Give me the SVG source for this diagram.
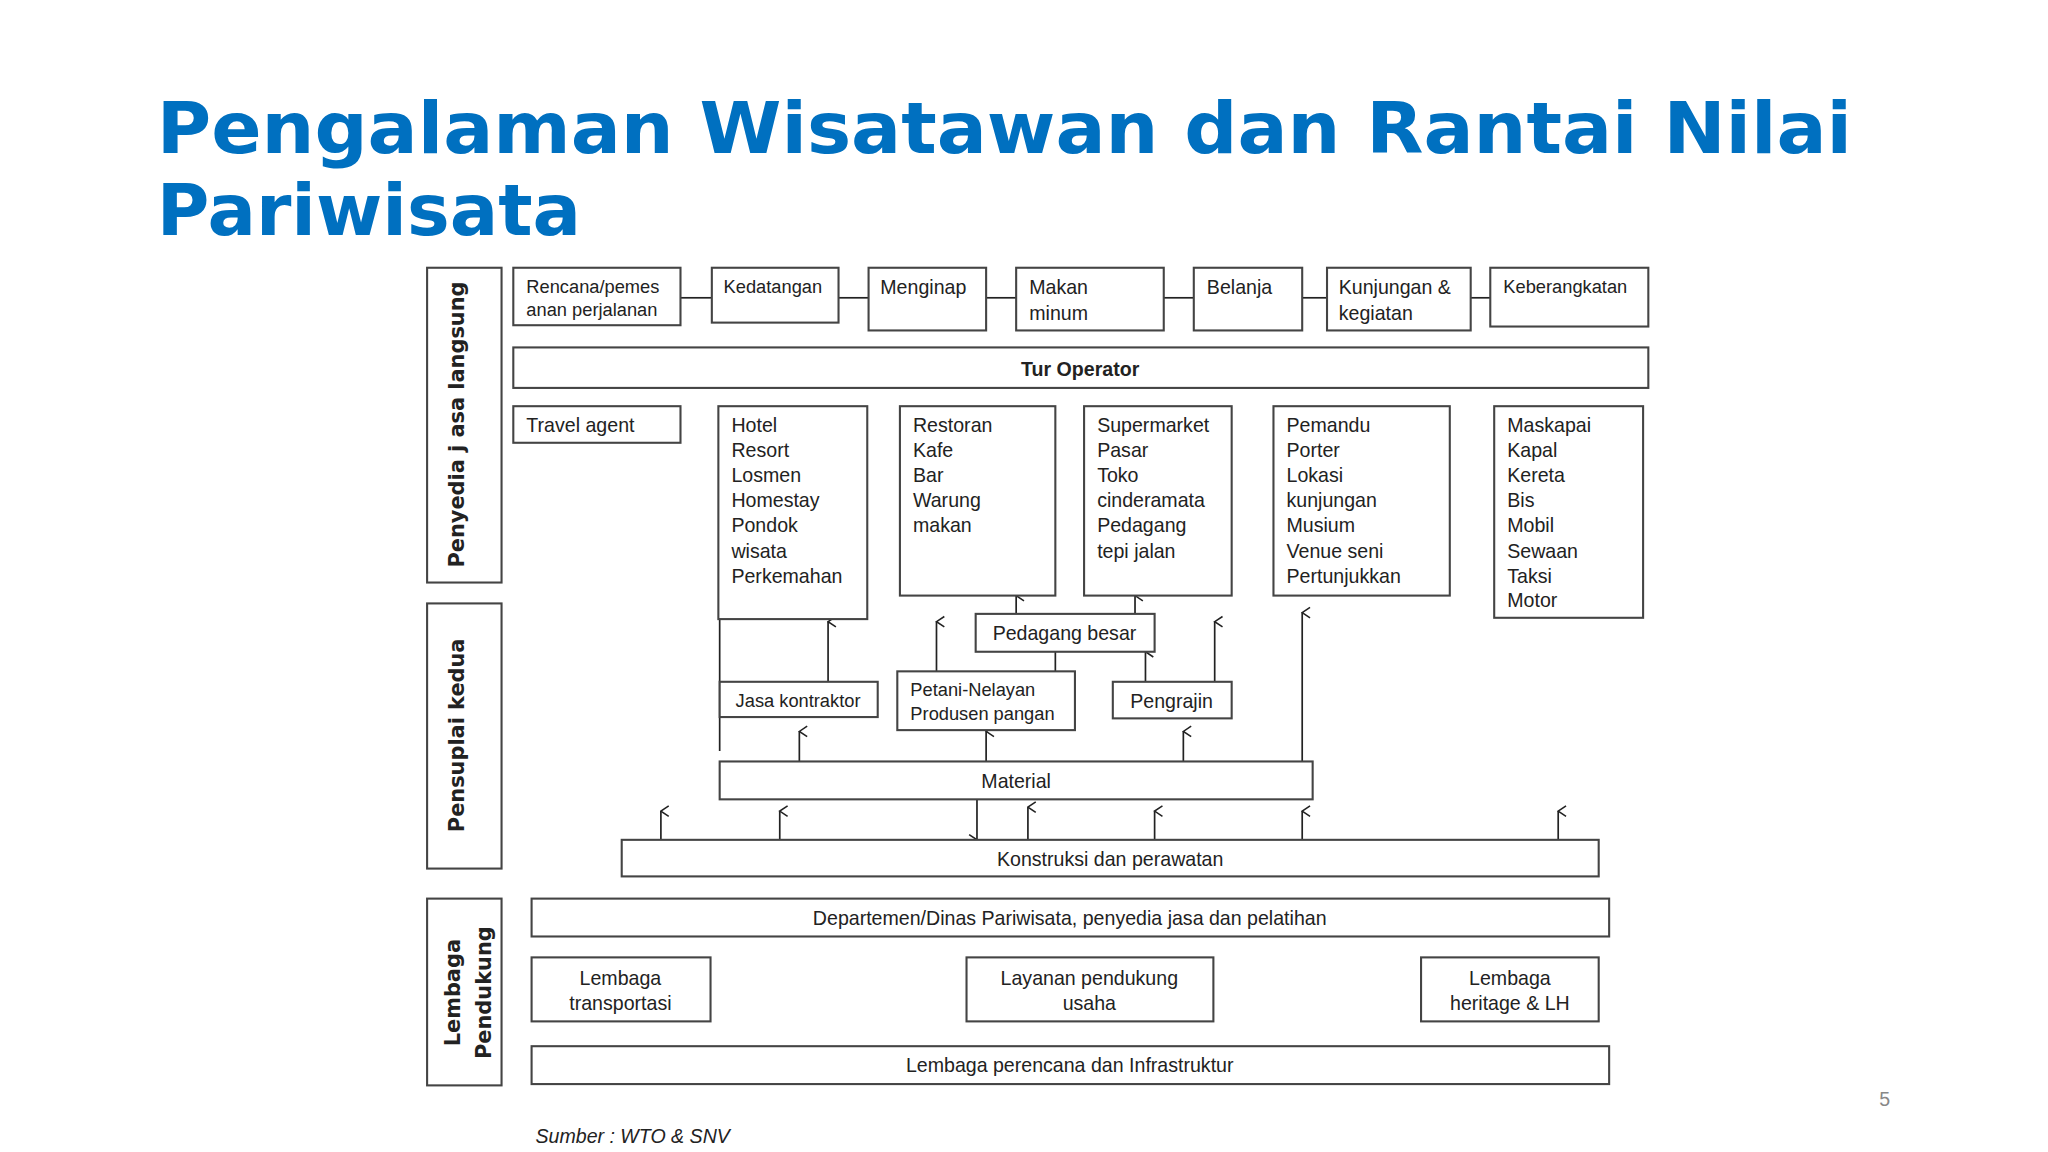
<svg xmlns="http://www.w3.org/2000/svg" width="2048" height="1152" viewBox="0 0 2048 1152">
<defs>
<marker id="ah" viewBox="0 0 10 10" refX="5" refY="1" markerWidth="10" markerHeight="10" markerUnits="userSpaceOnUse" orient="auto-start-reverse">
<polyline points="1,7 5,1 9,7" fill="none" stroke="#222" stroke-width="1.2"/>
</marker>
<style>
.b{fill:#fff;stroke:#444;stroke-width:1.6}
.t{font-family:"Liberation Sans",Arial,sans-serif;font-size:15px;fill:#222}
.s{font-family:"Liberation Sans",Arial,sans-serif;font-size:14px;fill:#222}
.side{font-family:"DejaVu Sans",sans-serif;font-weight:bold;font-size:16px;fill:#222}
.c{stroke:#222;stroke-width:1.3;fill:none}
.a{stroke:#222;stroke-width:1.3;fill:none;marker-end:url(#ah)}
</style>
</defs>
<rect width="2048" height="1152" fill="#fff"/>
<g transform="scale(1.30612)">
<g id="title" font-family="'DejaVu Sans',sans-serif" font-weight="bold" font-size="55" fill="#0070C0">
<text x="120" y="117" textLength="1298" lengthAdjust="spacingAndGlyphs">Pengalaman Wisatawan dan Rantai Nilai</text>
<text x="120" y="180">Pariwisata</text>
</g>
<g id="connectors">
<line class="c" x1="521" y1="228" x2="545" y2="228"/>
<line class="c" x1="642" y1="228" x2="665" y2="228"/>
<line class="c" x1="755" y1="228" x2="778" y2="228"/>
<line class="c" x1="891" y1="228" x2="914" y2="228"/>
<line class="c" x1="997" y1="228" x2="1016" y2="228"/>
<line class="c" x1="1126" y1="228" x2="1141" y2="228"/>
<line class="a" x1="551" y1="575" x2="551" y2="470"/>
<line class="a" x1="634" y1="522" x2="634" y2="476"/>
<line class="a" x1="717" y1="514" x2="717" y2="476"/>
<line class="a" x1="778" y1="470" x2="778" y2="456"/>
<line class="a" x1="869" y1="470" x2="869" y2="456"/>
<line class="a" x1="808" y1="514" x2="808" y2="489"/>
<line class="a" x1="877" y1="522" x2="877" y2="499"/>
<line class="a" x1="930" y1="522" x2="930" y2="476"/>
<line class="a" x1="997" y1="583" x2="997" y2="469"/>
<line class="a" x1="612" y1="583" x2="612" y2="560"/>
<line class="a" x1="755" y1="583" x2="755" y2="560"/>
<line class="a" x1="906" y1="583" x2="906" y2="560"/>
<line class="a" x1="748" y1="612" x2="748" y2="643"/>
<line class="a" x1="506" y1="643" x2="506" y2="621"/>
<line class="a" x1="597" y1="643" x2="597" y2="621"/>
<line class="a" x1="787" y1="643" x2="787" y2="618"/>
<line class="a" x1="884" y1="643" x2="884" y2="621"/>
<line class="a" x1="997" y1="643" x2="997" y2="621"/>
<line class="a" x1="1193" y1="643" x2="1193" y2="621"/>
</g>
<g id="side1"><rect class="b" x="327" y="205" width="57" height="241"/><text class="side" transform="translate(355,325) rotate(-90)" text-anchor="middle">Penyedia j asa  langsung</text></g>
<g id="side2"><rect class="b" x="327" y="462" width="57" height="203"/><text class="side" transform="translate(355,563) rotate(-90)" text-anchor="middle">Pensuplai kedua</text></g>
<g id="side3"><rect class="b" x="327" y="688" width="57" height="143"/><text class="side" transform="translate(352,760) rotate(-90)" text-anchor="middle">Lembaga</text><text class="side" transform="translate(376,760) rotate(-90)" text-anchor="middle">Pendukung</text></g>
<g id="rencana"><rect class="b" x="393" y="205" width="128" height="44"/><text class="s" x="403" y="224">Rencana/pemes</text><text class="s" x="403" y="242">anan perjalanan</text></g>
<g id="kedatangan"><rect class="b" x="545" y="205" width="97" height="42"/><text class="s" x="554" y="224">Kedatangan</text></g>
<g id="menginap"><rect class="b" x="665" y="205" width="90" height="48"/><text class="t" x="674" y="225">Menginap</text></g>
<g id="makan"><rect class="b" x="778" y="205" width="113" height="48"/><text class="t" x="788" y="225">Makan</text><text class="t" x="788" y="245">minum</text></g>
<g id="belanja"><rect class="b" x="914" y="205" width="83" height="48"/><text class="t" x="924" y="225">Belanja</text></g>
<g id="kunjungan"><rect class="b" x="1016" y="205" width="110" height="48"/><text class="t" x="1025" y="225">Kunjungan &amp;</text><text class="t" x="1025" y="245">kegiatan</text></g>
<g id="keberangkatan"><rect class="b" x="1141" y="205" width="121" height="45"/><text class="s" x="1151" y="224">Keberangkatan</text></g>
<g id="tur"><rect class="b" x="393" y="266" width="869" height="31"/><text class="t" x="827" y="288" text-anchor="middle" font-weight="bold" font-size="17">Tur Operator</text></g>
<g id="travel"><rect class="b" x="393" y="311" width="128" height="28"/><text class="t" x="403" y="331">Travel agent</text></g>
<g id="hotel"><rect class="b" x="550" y="311" width="114" height="163"/><text class="t" x="560" y="331">Hotel</text><text class="t" x="560" y="350">Resort</text><text class="t" x="560" y="369">Losmen</text><text class="t" x="560" y="388">Homestay</text><text class="t" x="560" y="407">Pondok</text><text class="t" x="560" y="427">wisata</text><text class="t" x="560" y="446">Perkemahan</text></g>
<g id="restoran"><rect class="b" x="689" y="311" width="119" height="145"/><text class="t" x="699" y="331">Restoran</text><text class="t" x="699" y="350">Kafe</text><text class="t" x="699" y="369">Bar</text><text class="t" x="699" y="388">Warung</text><text class="t" x="699" y="407">makan</text></g>
<g id="supermarket"><rect class="b" x="830" y="311" width="113" height="145"/><text class="t" x="840" y="331">Supermarket</text><text class="t" x="840" y="350">Pasar</text><text class="t" x="840" y="369">Toko</text><text class="t" x="840" y="388">cinderamata</text><text class="t" x="840" y="407">Pedagang</text><text class="t" x="840" y="427">tepi jalan</text></g>
<g id="pemandu"><rect class="b" x="975" y="311" width="135" height="145"/><text class="t" x="985" y="331">Pemandu</text><text class="t" x="985" y="350">Porter</text><text class="t" x="985" y="369">Lokasi</text><text class="t" x="985" y="388">kunjungan</text><text class="t" x="985" y="407">Musium</text><text class="t" x="985" y="427">Venue seni</text><text class="t" x="985" y="446">Pertunjukkan</text></g>
<g id="maskapai"><rect class="b" x="1144" y="311" width="114" height="162"/><text class="t" x="1154" y="331">Maskapai</text><text class="t" x="1154" y="350">Kapal</text><text class="t" x="1154" y="369">Kereta</text><text class="t" x="1154" y="388">Bis</text><text class="t" x="1154" y="407">Mobil</text><text class="t" x="1154" y="427">Sewaan</text><text class="t" x="1154" y="446">Taksi</text><text class="t" x="1154" y="465">Motor</text></g>
<g id="pedagang"><rect class="b" x="747" y="470" width="137" height="29"/><text class="t" x="815" y="490" text-anchor="middle">Pedagang besar</text></g>
<g id="jasa"><rect class="b" x="551" y="522" width="121" height="27"/><text class="s" x="611" y="541" text-anchor="middle">Jasa kontraktor</text></g>
<g id="petani"><rect class="b" x="687" y="514" width="136" height="45"/><text class="s" x="697" y="533">Petani-Nelayan</text><text class="s" x="697" y="551">Produsen pangan</text></g>
<g id="pengrajin"><rect class="b" x="852" y="522" width="91" height="28"/><text class="t" x="897" y="542" text-anchor="middle">Pengrajin</text></g>
<g id="material"><rect class="b" x="551" y="583" width="454" height="29"/><text class="t" x="778" y="603" text-anchor="middle">Material</text></g>
<g id="konstruksi"><rect class="b" x="476" y="643" width="748" height="28"/><text class="t" x="850" y="663" text-anchor="middle">Konstruksi dan perawatan</text></g>
<g id="departemen"><rect class="b" x="407" y="688" width="825" height="29"/><text class="t" x="819" y="708" text-anchor="middle">Departemen/Dinas Pariwisata, penyedia jasa dan pelatihan</text></g>
<g id="transportasi"><rect class="b" x="407" y="733" width="137" height="49"/><text class="t" x="475" y="754" text-anchor="middle">Lembaga</text><text class="t" x="475" y="773" text-anchor="middle">transportasi</text></g>
<g id="layanan"><rect class="b" x="740" y="733" width="189" height="49"/><text class="t" x="834" y="754" text-anchor="middle">Layanan pendukung</text><text class="t" x="834" y="773" text-anchor="middle">usaha</text></g>
<g id="heritage"><rect class="b" x="1088" y="733" width="136" height="49"/><text class="t" x="1156" y="754" text-anchor="middle">Lembaga</text><text class="t" x="1156" y="773" text-anchor="middle">heritage &amp; LH</text></g>
<g id="perencana"><rect class="b" x="407" y="801" width="825" height="29"/><text class="t" x="819" y="821" text-anchor="middle">Lembaga perencana dan Infrastruktur</text></g>
<text class="t" x="410" y="875" font-style="italic">Sumber : WTO &amp; SNV</text>
<text x="1443" y="847" font-family="'Liberation Sans',sans-serif" font-size="15" fill="#888" text-anchor="middle">5</text>
</g>
</svg>
